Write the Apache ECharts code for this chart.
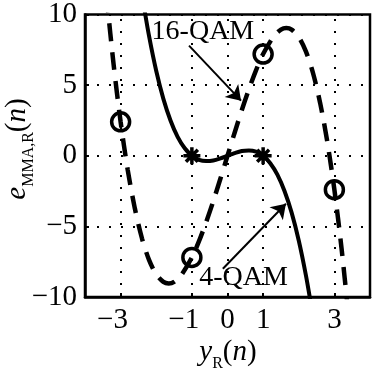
<!DOCTYPE html>
<html>
<head>
<meta charset="utf-8">
<script src="https://cdn.jsdelivr.net/npm/echarts@6/dist/echarts.min.js"></script>
<style>html,body{margin:0;padding:0;background:#fff}#c{width:372px;height:374px}</style>
</head>
<body>
<div id="c"></div>
<script>
// ---- data ----
const xTicks = [-3, -1, 0, 1, 3];
const yTicks = [-10, -5, 0, 5, 10];
const qam4X = [-2.35, -2.2, -2.0, -1.8, -1.6, -1.4, -1.2, -1.0, -0.8, -0.6, -0.4, -0.2, 0, 0.2, 0.4, 0.6, 0.8, 1.0, 1.2, 1.4, 1.6, 1.8, 2.0, 2.2, 2.35];
const qam4Y = [10.63, 8.45, 6.0, 4.03, 2.5, 1.34, 0.53, 0, -0.29, -0.38, -0.34, -0.19, 0, 0.19, 0.34, 0.38, 0.29, 0, -0.53, -1.34, -2.5, -4.03, -6.0, -8.45, -10.63];
const qam16X = [-3.4, -3.2, -3.0, -2.8, -2.6, -2.4, -2.2, -2.0, -1.8, -1.65, -1.5, -1.3, -1.0, -0.8, -0.6, -0.4, -0.2, 0, 0.2, 0.4, 0.6, 0.8, 1.0, 1.3, 1.5, 1.65, 1.8, 2.0, 2.2, 2.4, 2.6, 2.8, 3.0, 3.2, 3.4];
const qam16Y = [11.42, 6.53, 2.4, -1.01, -3.74, -5.86, -7.39, -8.4, -8.93, -9.04, -8.93, -8.46, -7.2, -6.05, -4.7, -3.22, -1.63, 0, 1.63, 3.22, 4.7, 6.05, 7.2, 8.46, 8.93, 9.04, 8.93, 8.4, 7.39, 5.86, 3.74, 1.01, -2.4, -6.53, -11.42];
const circleX = [-3, -1, 1, 3];
const circleY = [2.4, -7.2, 7.2, -2.4];
const starX = [-1, 1];
const starY = [0, 0];
const annotText = ['16-QAM', '4-QAM'];
const annotX = [-0.69, 0.45];
const annotY = [8.8, -8.6];
const arrowFromX = [-1.08, -0.13];
const arrowFromY = [7.8, -8.0];
const arrowToX = [0.38, 1.64];
const arrowToY = [3.9, -3.4];

const FONT = 'Liberation Serif';
const zip = (a, b) => a.map((v, i) => [v, b[i]]);
const minus = v => (v < 0 ? '\u2212' + (-v) : String(v));
const dotted = { type: [2, 10], width: 2, color: '#000' };

const chart = echarts.init(document.getElementById('c'), null, { renderer: 'canvas' });
chart.setOption({
  animation: false,
  backgroundColor: '#fff',
  grid: { left: 85, right: 2, top: 11, bottom: 77, show: true, borderColor: '#000', borderWidth: 2.5 },
  xAxis: {
    type: 'value', min: -4, max: 4, interval: 1,
    axisLine: { show: true, onZero: false, lineStyle: { color: '#000', width: 2.5 } },
    axisTick: { show: true, inside: true, length: 4, customValues: xTicks, lineStyle: { color: '#000', width: 2 } },
    axisLabel: {
      customValues: xTicks, margin: 9, color: '#000', fontFamily: FONT, fontSize: 29,
      formatter: v => (v < 0 ? '{a|' + minus(v) + '}{h|\u2212}' : '{a|' + v + '}'),
      rich: { a: { fontFamily: FONT, fontSize: 29, color: '#000' }, h: { fontFamily: FONT, fontSize: 29, color: 'rgba(0,0,0,0)' } }
    },
    splitLine: { show: false }
  },
  yAxis: {
    type: 'value', min: -10, max: 10, interval: 5,
    axisLine: { show: true, onZero: false, lineStyle: { color: '#000', width: 2.5 } },
    axisTick: { show: true, inside: true, length: 4, lineStyle: { color: '#000', width: 2 } },
    axisLabel: { margin: 8, color: '#000', fontFamily: FONT, fontSize: 29, formatter: v => minus(v) },
    splitLine: { show: true, lineStyle: dotted }
  },
  graphic: [
    {
      type: 'text', x: 228, y: 352, z: 10,
      style: {
        text: '{i|y}{s|R}{m|(}{i|n}{m|)}', align: 'center', verticalAlign: 'middle',
        rich: {
          i: { fontFamily: FONT, fontStyle: 'italic', fontSize: 29, lineHeight: 40, verticalAlign: 'middle', fill: '#000' },
          m: { fontFamily: FONT, fontSize: 29, lineHeight: 40, verticalAlign: 'middle', fill: '#000' },
          s: { fontFamily: FONT, fontSize: 16, lineHeight: 14, verticalAlign: 'bottom', fill: '#000' }
        }
      }
    },
    {
      type: 'text', x: 17, y: 149, rotation: Math.PI / 2, z: 10,
      style: {
        text: '{i|e}{s|MMA,R}{m|(}{i|n}{m|)}', align: 'center', verticalAlign: 'middle',
        rich: {
          i: { fontFamily: FONT, fontStyle: 'italic', fontSize: 29, lineHeight: 40, verticalAlign: 'middle', fill: '#000' },
          m: { fontFamily: FONT, fontSize: 29, lineHeight: 40, verticalAlign: 'middle', fill: '#000' },
          s: { fontFamily: FONT, fontSize: 16, lineHeight: 14, verticalAlign: 'bottom', fill: '#000' }
        }
      }
    }
  ],
  series: [
    {
      type: 'line', data: [], z: 1, silent: true,
      markLine: {
        silent: true, symbol: ['none', 'none'], label: { show: false },
        lineStyle: dotted, emphasis: { disabled: true },
        data: xTicks.map(v => ({ xAxis: v }))
      }
    },
    {
      name: '16-QAM', type: 'line', data: zip(qam16X, qam16Y), showSymbol: false, smooth: 0.3, z: 3,
      lineStyle: { color: '#000', width: 4.5, type: [18, 11], cap: 'butt' }
    },
    {
      name: '4-QAM', type: 'line', data: zip(qam4X, qam4Y), showSymbol: false, smooth: 0.3, z: 3,
      lineStyle: { color: '#000', width: 4 }
    },
    {
      type: 'scatter', data: zip(circleX, circleY), symbol: 'circle', symbolSize: 18, z: 4,
      itemStyle: { color: 'rgba(0,0,0,0)', borderColor: '#000', borderWidth: 3.5, opacity: 1 }
    },
    {
      type: 'scatter', data: zip(starX, starY), z: 4, symbolSize: 17,
      symbol: 'path://M0 5 L10 5 M5 0 L5 10 M1.5 1.5 L8.5 8.5 M8.5 1.5 L1.5 8.5',
      itemStyle: { color: '#000', borderColor: '#000', borderWidth: 3.5, opacity: 1 }
    },
    {
      type: 'scatter', z: 5, symbolSize: 0,
      itemStyle: { opacity: 1 },
      data: annotText.map((t, i) => ({ name: t, value: [annotX[i], annotY[i]] })),
      label: { show: true, position: 'inside', formatter: p => p.name, color: '#000', fontFamily: FONT, fontSize: 28 },
      markLine: {
        silent: true, symbol: ['none', 'arrow'], symbolSize: 14, label: { show: false },
        lineStyle: { color: '#000', width: 2, type: 'solid', opacity: 1 }, emphasis: { disabled: true },
        data: arrowFromX.map((x, i) => [{ coord: [x, arrowFromY[i]] }, { coord: [arrowToX[i], arrowToY[i]] }])
      }
    }
  ]
});
</script>
</body>
</html>
